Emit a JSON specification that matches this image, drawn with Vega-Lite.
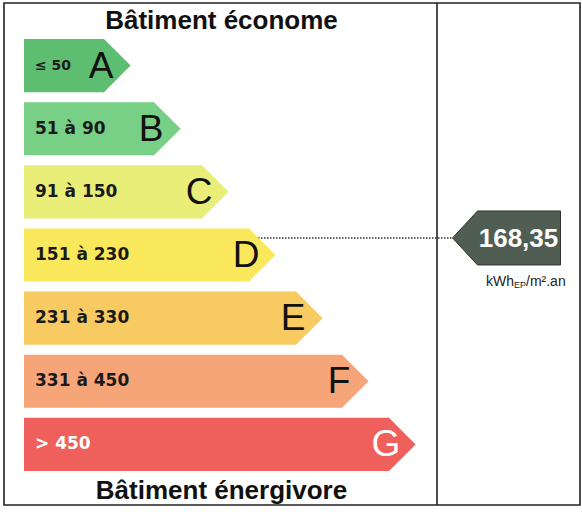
{
  "$schema": "https://vega.github.io/schema/vega-lite/v6.json",
  "width": 576,
  "height": 502,
  "autosize": {"type": "none"},
  "padding": {"left": 4, "top": 3, "right": 2, "bottom": 20},
  "background": "white",
  "config": {
    "view": {"stroke": "#222222", "strokeWidth": 1.6},
    "text": {"font": "Liberation Sans"}
  },
  "datasets": {
    "classes": [
      {"classe": "A", "plage": "≤ 50", "fin": 80},
      {"classe": "B", "plage": "51 à 90", "fin": 130},
      {"classe": "C", "plage": "91 à 150", "fin": 178},
      {"classe": "D", "plage": "151 à 230", "fin": 225},
      {"classe": "E", "plage": "231 à 330", "fin": 272},
      {"classe": "F", "plage": "331 à 450", "fin": 318},
      {"classe": "G", "plage": "> 450", "fin": 365}
    ],
    "indicateur": [
      {"classe": "D", "valeur": "168,35", "depart": 225, "pointe": 429, "centre": 482.5, "separation": 413}
    ]
  },
  "resolve": {"axis": {"x": "independent"}},
  "layer": [
    {
      "data": {"name": "indicateur"},
      "mark": {"type": "rule", "color": "#333333", "strokeWidth": 1.6, "strokeDash": [1.5, 1.5]},
      "encoding": {
        "x": {"field": "depart", "type": "quantitative", "scale": {"domain": [-20, 556], "zero": false, "nice": false}, "axis": {"orient": "top", "title": "Bâtiment économe", "labels": false, "ticks": false, "domain": false, "grid": false, "titleFont": "Liberation Sans", "titleFontSize": 26, "titleFontWeight": "bold", "titleColor": "#111111", "titleBaseline": "alphabetic", "titlePadding": -25, "titleX": 217}},
        "x2": {"field": "pointe"},
        "y": {"field": "classe", "type": "nominal", "bandPosition": 0.18, "scale": {"domain": ["A", "B", "C", "D", "E", "F", "G"], "range": [36, 468], "paddingInner": 0.157, "paddingOuter": 0}, "axis": null}
      }
    },
    {
      "data": {"name": "indicateur"},
      "mark": {"type": "rule", "color": "#222222", "strokeWidth": 1.6},
      "encoding": {
        "x": {"field": "separation", "type": "quantitative", "axis": null}
      }
    },
    {
      "data": {"name": "classes"},
      "mark": {"type": "bar", "strokeWidth": 0},
      "encoding": {
        "x": {"field": "fin", "type": "quantitative", "axis": null},
        "y": {"field": "classe", "type": "nominal", "axis": null},
        "color": {"field": "classe", "type": "nominal", "legend": null, "scale": {"domain": ["A", "B", "C", "D", "E", "F", "G"], "range": ["#5dbd70", "#78cf86", "#e9ee78", "#fae85c", "#f8cb62", "#f6a579", "#ef605c"]}}
      }
    },
    {
      "data": {"name": "classes"},
      "mark": {"type": "point", "filled": true, "opacity": 1, "strokeWidth": 0, "shape": "M-0.06,-1L0,-1L1,0L0,1L-0.06,1Z", "size": 2830},
      "encoding": {
        "x": {"field": "fin", "type": "quantitative", "axis": {"orient": "bottom", "title": "Bâtiment énergivore", "labels": false, "ticks": false, "domain": false, "grid": false, "titleFont": "Liberation Sans", "titleFontSize": 26, "titleFontWeight": "bold", "titleColor": "#111111", "titleBaseline": "alphabetic", "titlePadding": -7, "titleX": 217}},
        "y": {"field": "classe", "type": "nominal", "axis": null},
        "color": {"field": "classe", "type": "nominal", "legend": null}
      }
    },
    {
      "data": {"name": "classes"},
      "mark": {"type": "text", "align": "left", "baseline": "middle", "dx": 11, "font": "DejaVu Sans", "fontWeight": "bold", "fontSize": 17},
      "encoding": {
        "x": {"datum": 0, "type": "quantitative", "axis": null},
        "y": {"field": "classe", "type": "nominal", "axis": null},
        "text": {"field": "plage"},
        "size": {"condition": {"test": "datum.classe === 'A'", "value": 14}, "value": 17},
        "color": {"condition": {"test": "datum.classe === 'G'", "value": "#ffffff"}, "value": "#1a1a1a"}
      }
    },
    {
      "data": {"name": "classes"},
      "mark": {"type": "text", "align": "center", "baseline": "middle", "dx": -3, "dy": 1, "fontSize": 37, "font": "Liberation Sans"},
      "encoding": {
        "x": {"field": "fin", "type": "quantitative", "axis": null},
        "y": {"field": "classe", "type": "nominal", "axis": null},
        "text": {"field": "classe"},
        "color": {"condition": {"test": "datum.classe === 'G'", "value": "#ffffff"}, "value": "#111111"}
      }
    },
    {
      "data": {"name": "indicateur"},
      "mark": {"type": "point", "filled": true, "opacity": 1, "color": "#505d52", "stroke": "#2f3530", "strokeWidth": 1, "shape": "M-1,0L-0.537,-0.5L1,-0.5L1,0.5L-0.537,0.5Z", "size": 11664},
      "encoding": {
        "x": {"field": "centre", "type": "quantitative", "axis": null},
        "y": {"field": "classe", "type": "nominal", "bandPosition": 0.18, "axis": null}
      }
    },
    {
      "data": {"name": "indicateur"},
      "mark": {"type": "text", "align": "center", "baseline": "middle", "dx": 12, "dy": 1, "fontSize": 26, "fontWeight": "bold", "color": "#ffffff", "font": "Liberation Sans"},
      "encoding": {
        "x": {"field": "centre", "type": "quantitative", "axis": null},
        "y": {"field": "classe", "type": "nominal", "bandPosition": 0.18, "axis": null},
        "text": {"field": "valeur"}
      }
    },
    {
      "data": {"name": "indicateur"},
      "mark": {"type": "text", "align": "right", "baseline": "alphabetic", "dx": 7.5, "dy": 48, "fontSize": 14, "color": "#222222", "font": "Liberation Sans"},
      "encoding": {
        "x": {"field": "centre", "type": "quantitative", "axis": null},
        "y": {"field": "classe", "type": "nominal", "bandPosition": 0.18, "axis": null},
        "text": {"value": "kWh"}
      }
    },
    {
      "data": {"name": "indicateur"},
      "mark": {"type": "text", "align": "left", "baseline": "alphabetic", "dx": 7.5, "dy": 50, "fontSize": 9, "color": "#222222", "font": "Liberation Sans"},
      "encoding": {
        "x": {"field": "centre", "type": "quantitative", "axis": null},
        "y": {"field": "classe", "type": "nominal", "bandPosition": 0.18, "axis": null},
        "text": {"value": "EP"}
      }
    },
    {
      "data": {"name": "indicateur"},
      "mark": {"type": "text", "align": "left", "baseline": "alphabetic", "dx": 19.5, "dy": 48, "fontSize": 14, "color": "#222222", "font": "Liberation Sans"},
      "encoding": {
        "x": {"field": "centre", "type": "quantitative", "axis": null},
        "y": {"field": "classe", "type": "nominal", "bandPosition": 0.18, "axis": null},
        "text": {"value": "/m².an"}
      }
    }
  ]
}
